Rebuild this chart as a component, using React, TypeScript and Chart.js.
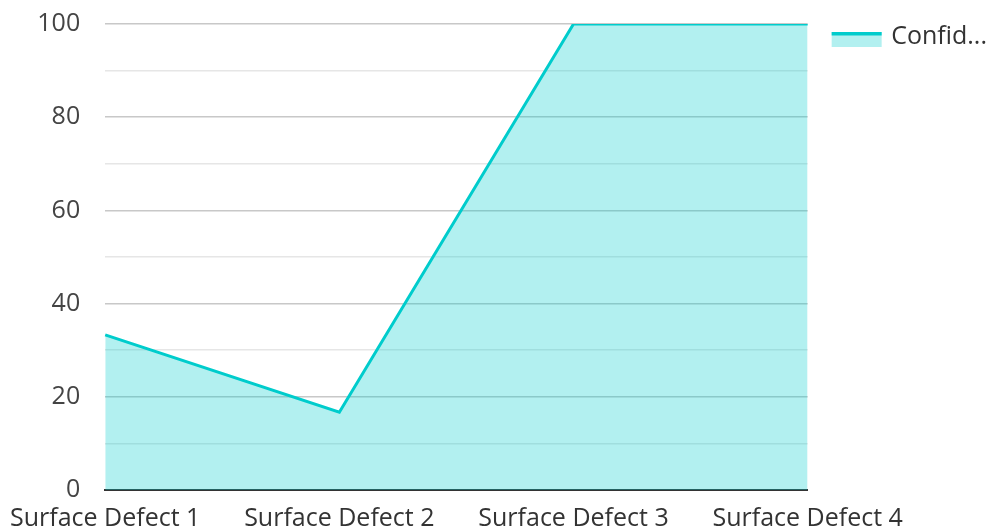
import React, { useEffect, useRef } from "react";
import { Chart, registerables } from "chart.js";

Chart.register(...registerables);

const categories = ["Surface Defect 1", "Surface Defect 2", "Surface Defect 3", "Surface Defect 4"];
const confidence = [33.3, 16.7, 100, 100];
const seriesLabel = "Confid...";
const yMin = 0;
const yMax = 100;
const yStep = 10;

const LINE = "#00cccc";
const FILL = "rgba(0,204,204,0.3)";
const FONT = "'Open Sans', sans-serif";
const FONT_SIZE = 25;

const legendLinePlugin = {
  id: "legendLine",
  afterDraw(chart: any) {
    const lg = chart.legend;
    if (!lg || !lg.legendHitBoxes) return;
    const ctx = chart.ctx;
    lg.legendHitBoxes.forEach((b: any) => {
      const bh = 15;
      const top = b.top + 8;
      ctx.save();
      ctx.fillStyle = FILL;
      ctx.fillRect(b.left, top, 50, bh);
      ctx.strokeStyle = LINE;
      ctx.lineWidth = 3.5;
      ctx.beginPath();
      ctx.moveTo(b.left, top + 1.75);
      ctx.lineTo(b.left + 50, top + 1.75);
      ctx.stroke();
      ctx.restore();
    });
  },
};

export default function App() {
  const ref = useRef<HTMLCanvasElement>(null);
  useEffect(() => {
    if (!ref.current) return;
    const chart = new Chart(ref.current, {
      type: "line",
      data: {
        labels: categories,
        datasets: [
          {
            label: seriesLabel,
            data: confidence,
            borderColor: LINE,
            backgroundColor: FILL,
            borderWidth: 3,
            fill: "origin",
            pointRadius: 0,
            tension: 0,
          },
        ],
      },
      options: {
        animation: false,
        responsive: true,
        maintainAspectRatio: false,
        layout: { padding: { top: 0, left: 8, right: -9, bottom: 0 } },
        plugins: {
          tooltip: { enabled: false },
          legend: {
            position: "right",
            align: "start",
            labels: {
              boxWidth: 47,
              boxHeight: 15,
              padding: 24,
              color: "#333",
              font: { family: FONT, size: FONT_SIZE },
              generateLabels: (c: any) =>
                c.data.datasets.map((d: any, i: number) => ({
                  text: d.label,
                  fillStyle: "rgba(0,0,0,0)",
                  strokeStyle: "rgba(0,0,0,0)",
                  lineWidth: 0,
                  hidden: false,
                  datasetIndex: i,
                  fontColor: "#333",
                })),
            },
          },
        },
        scales: {
          x: {
            grid: { display: false, drawTicks: false },
            border: { display: true, color: "#333", width: 2 },
            afterFit: (s: any) => {
              s.height = 41;
              s.paddingLeft = Math.max(0, s.paddingLeft - 4);
            },
            ticks: {
              color: "#333",
              font: { family: FONT, size: FONT_SIZE },
              padding: 14,
              maxRotation: 0,
              autoSkip: false,
            },
          },
          y: {
            min: yMin,
            max: yMax,
            border: { display: false },
            afterFit: (s: any) => {
              s.paddingTop = 24;
              s.paddingBottom = 0;
            },
            grid: {
              drawTicks: false,
              color: (ctx: any) => (ctx.tick && ctx.tick.value % 20 === 0 ? "#c8c8c8" : "#e6e6e6"),
              lineWidth: 1.5,
            },
            ticks: {
              stepSize: yStep,
              padding: 25,
              color: "#444",
              font: { family: FONT, size: FONT_SIZE },
              callback: (v: any) => (Number(v) % 20 === 0 ? String(v) : ""),
            },
          },
        },
      },
      plugins: [legendLinePlugin],
    });
    return () => chart.destroy();
  }, []);
  return (
    <div style={{ position: "fixed", left: 0, top: 0, width: 988, height: 531 }}>
      <canvas ref={ref} />
    </div>
  );
}
